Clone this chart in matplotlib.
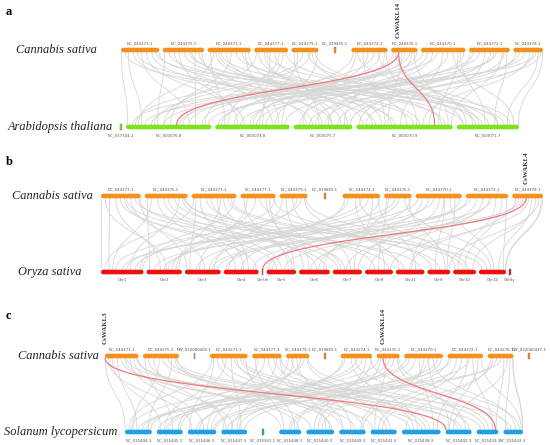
import numpy as np
import matplotlib
matplotlib.use('Agg')
import matplotlib.pyplot as plt
from matplotlib.patches import FancyBboxPatch

# ---------------- данные ----------------
# хромосомы конопли (Мб), порядок как на рисунке
cs_a_names = ['NC_044373.1', 'NC_044375.1', 'NC_044371.1', 'NC_044377.1', 'NC_044379.1', 'NC_029855.1',
              'NC_044374.1', 'NC_044376.1', 'NC_044370.1', 'NC_044372.1', 'NC_044378.1']
cs_a_len = [93, 100, 105, 82, 65, 0.4, 88, 64, 108, 99, 72]

cs_c_names = ['NC_044373.1', 'NC_044375.1', 'NW_022060405.1', 'NC_044371.1', 'NC_044377.1', 'NC_044379.1',
              'NC_029855.1', 'NC_044374.1', 'NC_044376.1', 'NC_044370.1', 'NC_044372.1', 'NC_044378.1',
              'NW_022060437.1']
cs_c_len = [93, 100, 0.5, 105, 82, 65, 0.4, 88, 64, 108, 99, 72, 0.5]

at_names = ['NC_037304.1', 'NC_003076.8', 'NC_003074.8', 'NC_003075.7', 'NC_003070.9', 'NC_003071.7']
at_len = [0.37, 26.98, 23.46, 18.59, 30.43, 19.70]

os_names = ['Chr1', 'Chr2', 'Chr3', 'Chr4', 'ChrUn', 'Chr5', 'Chr6', 'Chr7', 'Chr8', 'Chr11', 'Chr9',
            'Chr10', 'Chr12', 'ChrSy']
os_len = [43.27, 35.94, 36.41, 35.50, 0.63, 29.96, 31.25, 29.70, 28.44, 29.02, 23.01, 23.21, 27.53, 0.59]

sl_names = ['NC_015444.3', 'NC_015445.3', 'NC_015446.3', 'NC_015447.3', 'NC_035963.1', 'NC_015448.3',
            'NC_015440.3', 'NC_015449.3', 'NC_015441.3', 'NC_015438.3', 'NC_015442.3', 'NC_015439.3',
            'NC_015443.3']
sl_len = [68.05, 65.87, 72.48, 65.53, 0.45, 56.30, 70.79, 67.15, 66.47, 98.54, 65.88, 55.34, 49.75]

# синтенные пары: (хромосома сверху, позиция Мб, хромосома снизу, позиция Мб)
links_a = [(0, 1, 1, 0.5), (0, 18, 1, 5), (0, 40, 4, 12), (0, 62, 2, 9), (0, 85, 5, 15), (0, 30, 3, 6),
           (1, 4, 1, 10), (1, 28, 3, 4), (1, 52, 4, 20), (1, 78, 1, 22), (1, 95, 2, 18), (1, 65, 5, 8),
           (2, 8, 2, 3), (2, 33, 5, 6), (2, 58, 1, 14), (2, 84, 4, 27), (2, 100, 3, 12), (2, 20, 4, 2),
           (3, 10, 4, 5), (3, 38, 2, 15), (3, 60, 1, 25), (3, 77, 5, 10), (3, 25, 3, 17),
           (4, 6, 3, 8), (4, 28, 1, 3), (4, 50, 4, 16), (4, 62, 2, 21), (4, 40, 5, 2),
           (6, 4, 2, 6), (6, 28, 4, 9), (6, 55, 1, 18), (6, 80, 3, 16), (6, 15, 5, 13), (6, 70, 2, 12),
           (7, 10, 5, 3), (7, 33, 2, 11), (7, 56, 4, 29), (7, 45, 1, 20),
           (8, 5, 1, 8), (8, 28, 3, 2), (8, 52, 4, 14), (8, 78, 5, 18), (8, 104, 2, 22), (8, 90, 4, 26),
           (9, 10, 2, 1), (9, 38, 4, 23), (9, 66, 1, 12), (9, 92, 5, 12), (9, 52, 3, 10), (9, 80, 4, 30),
           (10, 6, 3, 14), (10, 28, 1, 26), (10, 48, 4, 3), (10, 71, 5, 19.5), (10, 60, 5, 16),
           (0, 10, 4, 6), (0, 50, 1, 20), (0, 75, 3, 12), (0, 92, 4, 18),
           (1, 15, 5, 2), (1, 40, 2, 7), (1, 70, 4, 28), (1, 88, 3, 9),
           (2, 15, 1, 4), (2, 45, 3, 15), (2, 70, 5, 13), (2, 92, 2, 20), (2, 27, 4, 11),
           (3, 5, 1, 12), (3, 30, 5, 17), (3, 50, 4, 8), (3, 70, 2, 4),
           (4, 15, 2, 14), (4, 45, 1, 9), (4, 58, 5, 7),
           (6, 10, 3, 3), (6, 40, 2, 19), (6, 65, 5, 5), (6, 85, 4, 19),
           (7, 5, 1, 24), (7, 25, 4, 10), (7, 50, 3, 11), (7, 62, 2, 2),
           (8, 15, 2, 16), (8, 40, 1, 2), (8, 65, 3, 7), (8, 95, 5, 9),
           (9, 3, 4, 1), (9, 25, 1, 17), (9, 60, 2, 13), (9, 85, 3, 18),
           (10, 15, 2, 8), (10, 40, 4, 21), (10, 55, 1, 6), (10, 66, 3, 5)]

links_b = [(0, 1, 0, 0.5), (0, 20, 0, 8), (0, 45, 5, 10), (0, 70, 2, 20), (0, 88, 7, 5), (0, 35, 1, 14),
           (1, 6, 1, 3), (1, 30, 3, 12), (1, 55, 6, 18), (1, 80, 0, 30), (1, 96, 9, 8),
           (2, 10, 2, 5), (2, 35, 8, 10), (2, 60, 3, 25), (2, 85, 10, 12), (2, 100, 0, 40),
           (3, 8, 5, 22), (3, 35, 1, 30), (3, 60, 6, 4), (3, 78, 11, 15),
           (4, 6, 2, 30), (4, 30, 7, 18), (4, 50, 0, 15), (4, 62, 12, 8),
           (6, 5, 3, 5), (6, 30, 8, 20), (6, 60, 1, 22), (6, 84, 9, 20),
           (7, 10, 6, 25), (7, 35, 2, 12), (7, 58, 10, 18),
           (8, 5, 0, 22), (8, 30, 5, 2), (8, 55, 7, 26), (8, 80, 12, 15), (8, 104, 3, 30),
           (9, 10, 1, 8), (9, 40, 8, 5), (9, 70, 11, 5), (9, 95, 12, 25), (9, 55, 6, 12),
           (10, 8, 9, 14), (10, 25, 2, 33), (10, 45, 12, 20), (10, 68, 12, 27), (10, 55, 11, 20),
           (0, 55, 3, 33), (2, 75, 5, 26), (6, 45, 0, 35), (8, 68, 10, 8), (1, 88, 7, 12),
           (0, 10, 1, 20), (0, 60, 6, 28), (0, 80, 9, 25), (0, 92, 2, 2),
           (1, 15, 0, 12), (1, 45, 5, 15), (1, 70, 8, 24), (1, 92, 12, 3),
           (2, 20, 3, 20), (2, 45, 7, 8), (2, 68, 1, 33), (2, 92, 11, 10), (2, 5, 0, 4),
           (3, 15, 2, 15), (3, 45, 10, 4), (3, 68, 5, 28), (3, 80, 0, 42),
           (4, 15, 6, 10), (4, 40, 1, 26), (4, 58, 9, 3),
           (6, 12, 2, 25), (6, 40, 11, 2), (6, 70, 7, 22), (6, 86, 3, 18),
           (7, 5, 8, 14), (7, 25, 0, 26), (7, 48, 12, 12), (7, 62, 5, 6),
           (8, 15, 6, 20), (8, 42, 1, 18), (8, 66, 9, 16), (8, 92, 10, 20),
           (9, 3, 3, 2), (9, 25, 7, 14), (9, 60, 2, 28), (9, 85, 11, 12),
           (10, 15, 5, 18), (10, 38, 8, 26), (10, 62, 10, 22), (10, 71, 12, 27.4)]

links_c = [(0, 1, 0, 0.5), (0, 20, 1, 10), (0, 45, 6, 12), (0, 70, 2, 40), (0, 88, 8, 5), (0, 35, 0, 30),
           (1, 6, 1, 40), (1, 30, 3, 12), (1, 55, 9, 20), (1, 80, 0, 60), (1, 96, 7, 8),
           (3, 10, 2, 5), (3, 35, 8, 40), (3, 60, 3, 50), (3, 85, 10, 30), (3, 100, 5, 12),
           (4, 8, 5, 40), (4, 35, 1, 55), (4, 60, 9, 70), (4, 78, 6, 50),
           (5, 6, 2, 60), (5, 30, 7, 30), (5, 50, 0, 15), (5, 62, 11, 20),
           (7, 5, 3, 25), (7, 30, 9, 40), (7, 60, 1, 25), (7, 84, 12, 10),
           (8, 10, 6, 30), (8, 35, 2, 22), (8, 58, 10, 50),
           (9, 5, 0, 45), (9, 30, 5, 25), (9, 55, 7, 55), (9, 80, 12, 30), (9, 104, 3, 60),
           (10, 10, 1, 5), (10, 40, 8, 20), (10, 70, 11, 40), (10, 95, 12, 45), (10, 55, 9, 90),
           (11, 8, 9, 10), (11, 25, 2, 70), (11, 45, 11, 50), (11, 70, 12, 48), (11, 55, 10, 20),
           (0, 55, 5, 50), (3, 75, 7, 60), (7, 45, 0, 65), (9, 68, 10, 8), (1, 88, 6, 65), (5, 20, 3, 40),
           (0, 10, 2, 10), (0, 60, 9, 50), (0, 80, 3, 30), (0, 92, 7, 40),
           (1, 15, 5, 5), (1, 45, 0, 20), (1, 70, 10, 40), (1, 92, 11, 10),
           (3, 20, 6, 60), (3, 45, 1, 20), (3, 68, 9, 60), (3, 92, 12, 20), (3, 5, 0, 10),
           (4, 15, 2, 50), (4, 45, 7, 10), (4, 68, 3, 5), (4, 80, 10, 60),
           (5, 15, 8, 50), (5, 40, 1, 60), (5, 58, 9, 30),
           (7, 12, 2, 30), (7, 40, 11, 30), (7, 70, 6, 20), (7, 86, 5, 45),
           (8, 5, 0, 55), (8, 25, 8, 10), (8, 48, 3, 45), (8, 62, 12, 40),
           (9, 15, 1, 30), (9, 42, 9, 80), (9, 66, 6, 40), (9, 92, 2, 65),
           (10, 3, 5, 30), (10, 25, 7, 60), (10, 60, 3, 15), (10, 85, 10, 10),
           (11, 15, 8, 30), (11, 38, 0, 35), (11, 62, 12, 5), (11, 71, 12, 49)]

# выделенные пары генов WAK
red_a = [(7, 18, 1, 16), (7, 18, 4, 24.7)]
red_b = [(10, 32.5, 4, 0.3)]
red_c = [(0, 0.3, 10, 0.8), (8, 18, 11, 47.8)]

genes_a = [('CsWAKL14', 7, 18)]
genes_b = [('CsWAKL4', 10, 32.5)]
genes_c = [('CsWAKL3', 0, 0.3), ('CsWAKL14', 8, 18)]

# ---------------- оформление ----------------
ORANGE = '#f5901c'
GREEN = '#80e21c'
RED = '#ee1111'
BLUE = '#1ea0e6'
LINK = '#d6d6d6'
HL = '#f07a7a'
BAR_H = 4.6

fig = plt.figure(figsize=(5.5, 4.45), dpi=100)
ax = fig.add_axes([0, 0, 1, 1])
ax.set_xlim(0, 550)
ax.set_ylim(445, 0)
ax.axis('off')


def layout(lengths, x0, x1, gap, slot):
    """Считает начало и конец каждой хромосомы в ряду"""
    big = sum(l for l in lengths if l >= 2)
    n_small = sum(1 for l in lengths if l < 2)
    k = (x1 - x0 - n_small * slot - gap * (len(lengths) - 1)) / big
    pos, x = [], x0
    for l in lengths:
        w = l * k if l >= 2 else slot
        pos.append((x, x + w, l >= 2))
        x += w + gap
    return pos, k


def draw_row(names, lengths, y, x0, x1, gap, slot, color, above):
    pos, k = layout(lengths, x0, x1, gap, slot)
    for (s, e, big), name in zip(pos, names):
        if big:
            ax.add_patch(FancyBboxPatch((s, y - BAR_H / 2), e - s, BAR_H,
                                        boxstyle=f'round,pad=0,rounding_size={BAR_H / 2}',
                                        fc=color, ec='none', zorder=3))
        else:
            c = (s + e) / 2
            ax.add_patch(plt.Rectangle((c - 0.7, y - 3), 1.4, 6, fc=color, ec='#777777', lw=0.3, zorder=3))
        ly = y - 5 if above else y + 6
        ax.text((s + e) / 2, ly, name, fontsize=2.8, color='#555555', ha='center',
                va='bottom' if above else 'top', zorder=4)
    return pos, k


def xcoord(pos, k, chrom, mb):
    s, e, big = pos[chrom]
    return s + mb * k if big else (s + e) / 2


def bezier(xa, ya, xb, yb):
    t = np.linspace(0, 1, 60)
    ym = (ya + yb) / 2
    xs = (1 - t) ** 3 * xa + 3 * (1 - t) ** 2 * t * xa + 3 * (1 - t) * t ** 2 * xb + t ** 3 * xb
    ys = (1 - t) ** 3 * ya + 3 * (1 - t) ** 2 * t * ym + 3 * (1 - t) * t ** 2 * ym + t ** 3 * yb
    return xs, ys


def panel(letter, ly, top, bot, links, reds, genes, sp_top, sp_bot):
    y_t, y_b = top[2], bot[2]
    ptop, kt = draw_row(*top, color=ORANGE, above=True)
    pbot, kb = draw_row(*bot[:-1], above=False)
    for t, tm, b, bm in links:
        xs, ys = bezier(xcoord(ptop, kt, t, tm), y_t + BAR_H / 2, xcoord(pbot, kb, b, bm), y_b - BAR_H / 2)
        ax.plot(xs, ys, color=LINK, lw=0.7, alpha=0.85, zorder=1)
    for t, tm, b, bm in reds:
        xs, ys = bezier(xcoord(ptop, kt, t, tm), y_t + BAR_H / 2, xcoord(pbot, kb, b, bm), y_b - BAR_H / 2)
        ax.plot(xs, ys, color=HL, lw=0.9, zorder=2)
    for g, t, tm in genes:
        ax.text(xcoord(ptop, kt, t, tm), y_t - 12, g, rotation=90, ha='center', va='bottom',
                fontsize=5, family='Liberation Serif', fontweight='bold', color='#333333')
    ax.text(6, ly, letter, fontsize=9, family='Liberation Serif', fontweight='bold', va='center')
    ax.text(sp_top, y_t, 'Cannabis sativa', fontsize=8.9, family='Liberation Serif', style='italic',
            ha='center', va='center', color='#222222')
    ax.text(sp_bot[1], y_b, sp_bot[0], fontsize=8.9, family='Liberation Serif', style='italic',
            ha='center', va='center', color='#222222')


panel('a', 12,
      (cs_a_names, cs_a_len, 50, 121, 543, 3.5, 26),
      (at_names, at_len, 127, 120, 519, 4, 2, GREEN, None),
      links_a, red_a, genes_a, 56, ('Arabidopsis thaliana', 60))
panel('b', 162,
      (cs_a_names, cs_a_len, 196, 101, 543, 4, 27),
      (os_names, os_len, 272, 101, 511, 3, 2, RED, None),
      links_b, red_b, genes_b, 52, ('Oryza sativa', 50))
panel('c', 316,
      (cs_c_names, cs_c_len, 356, 105, 540, 4.5, 22),
      (sl_names, sl_len, 432, 125, 523, 5, 22, BLUE, None),
      links_c, red_c, genes_c, 58, ('Solanum lycopersicum', 61))

fig.savefig('out.png', dpi=100)
